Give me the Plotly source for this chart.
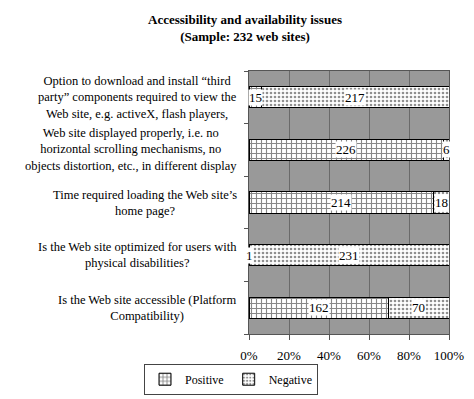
import plotly.graph_objects as go

categories = [
    "Option to download and install “third<br>party” components required to view the<br>Web site, e.g. activeX, flash players,",
    "Web site displayed properly, i.e. no<br>horizontal scrolling mechanisms, no<br>objects distortion, etc., in different display",
    "Time required loading the Web site’s<br>home page?",
    "Is the Web site optimized for users with<br>physical disabilities?",
    "Is the Web site accessible (Platform<br>Compatibility)",
]
positive = [15, 226, 214, 1, 162]
negative = [217, 6, 18, 231, 70]
tick_vals = [0, 20, 40, 60, 80, 100]
tick_text = ["0%", "20%", "40%", "60%", "80%", "100%"]

keys = [f"c{i}" for i in range(len(categories))]
FONT = "Liberation Serif, Times New Roman, serif"

fig = go.Figure()
fig.add_trace(go.Bar(
    name="Positive", y=keys, x=positive, orientation="h", width=0.4,
    marker=dict(color="white", line=dict(color="black", width=1),
                pattern=dict(shape="+", fgcolor="#111111", bgcolor="white", size=5, solidity=0.4)),
))
fig.add_trace(go.Bar(
    name="Negative", y=keys, x=negative, orientation="h", width=0.4,
    marker=dict(color="white", line=dict(color="black", width=1),
                pattern=dict(shape=".", fgcolor="#222222", bgcolor="white", size=4, solidity=0.35)),
))

annotations = []
for k, lab, p, n in zip(keys, categories, positive, negative):
    tot = p + n
    pp = p / tot * 100
    annotations.append(dict(x=pp / 2, y=k, xref="x", yref="y", text=str(p), showarrow=False,
                            bgcolor="white", borderpad=0, font=dict(family=FONT, size=13, color="black")))
    annotations.append(dict(x=pp + (100 - pp) / 2, y=k, xref="x", yref="y", text=str(n), showarrow=False,
                            bgcolor="white", borderpad=0, font=dict(family=FONT, size=13, color="black")))
    annotations.append(dict(x=-0.05, y=k, xref="paper", yref="y", text=lab, showarrow=False,
                            xanchor="right", align="center", font=dict(family=FONT, size=12.5, color="black")))

fig.update_layout(
    width=474, height=399,
    barmode="stack", barnorm="percent",
    margin=dict(l=241, r=33, t=63, b=61),
    paper_bgcolor="white", plot_bgcolor="#999999",
    title=dict(text="<b>Accessibility and availability issues<br>(Sample: 232 web sites)</b>",
               x=0.5, xanchor="center", y=0.96, yanchor="top",
               font=dict(family=FONT, size=13, color="black")),
    showlegend=True,
    legend=dict(orientation="h", x=-0.525, y=-0.113, xanchor="left", yanchor="top",
                bordercolor="#444444", borderwidth=1, bgcolor="white", itemwidth=30,
                font=dict(family=FONT, size=12, color="black"), traceorder="normal"),
    annotations=annotations,
)
fig.update_xaxes(range=[0, 100], tickvals=tick_vals, ticktext=tick_text, showgrid=True,
                 gridcolor="#6a6a6a", gridwidth=1, ticks="outside", ticklen=5, tickcolor="#555555",
                 ticklabelstandoff=4,
                 showline=True, linecolor="#555555", mirror=True, zeroline=False,
                 tickfont=dict(family=FONT, size=13, color="black"))
fig.update_yaxes(categoryorder="array", categoryarray=keys[::-1], autorange=True,
                 showticklabels=False, ticks="outside", ticklen=4, tickcolor="#555555",
                 tickson="boundaries", showline=True, linecolor="#555555", mirror=True,
                 showgrid=False)

fig.write_html("out.html")
